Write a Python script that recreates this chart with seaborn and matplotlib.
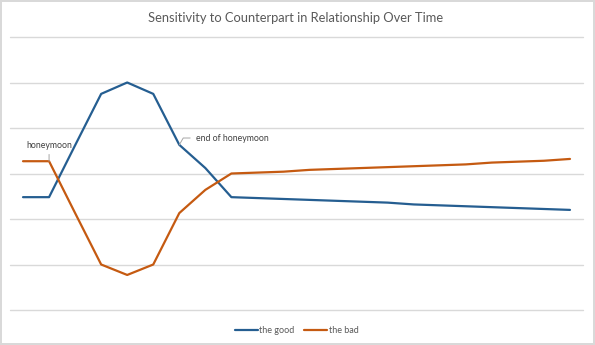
import pandas as pd
import matplotlib.pyplot as plt
import seaborn as sns

# data
periods = list(range(22))
good = [2.48, 2.48, 3.62, 4.75, 5.0, 4.75, 3.63, 3.12, 2.48, 2.46, 2.44, 2.42,
        2.40, 2.38, 2.36, 2.32, 2.30, 2.28, 2.26, 2.24, 2.22, 2.20]
bad = [3.27, 3.27, 2.13, 1.0, 0.77, 1.0, 2.13, 2.64, 3.0, 3.02, 3.04, 3.08,
       3.10, 3.12, 3.14, 3.16, 3.18, 3.20, 3.24, 3.26, 3.28, 3.32]
series_names = ['the good', 'the bad']
colors = ['#255E91', '#C55A11']

df = pd.DataFrame({'period': periods * 2,
                   'value': good + bad,
                   'series': [series_names[0]] * len(good) + [series_names[1]] * len(bad)})

sns.set_theme(style='white')
plt.rcParams['font.family'] = ['Lato', 'DejaVu Sans']

fig = plt.figure(figsize=(5.95, 3.45), dpi=100)
fig.patch.set_edgecolor('#d9d9d9')
fig.patch.set_linewidth(1.5)
ax = fig.add_axes([10 / 595, 35 / 345, 573 / 595, 273 / 345])

sns.lineplot(data=df, x='period', y='value', hue='series', hue_order=series_names,
             palette=colors, linewidth=1.6, ax=ax)

ax.set_xlim(-0.5, 21.5)
ax.set_ylim(0, 6)
ax.set_yticks(range(7))
ax.yaxis.grid(True, color='#d9d9d9', linewidth=1)
for gl in ax.get_ygridlines():
    gl.set_clip_on(False)
ax.set_axisbelow(True)
ax.set_xticks([])
ax.tick_params(left=False, labelleft=False)
ax.set_xlabel('')
ax.set_ylabel('')
for s in ax.spines.values():
    s.set_visible(False)

fig.text(296 / 595, 1 - 18 / 345, 'Sensitivity to Counterpart in Relationship Over Time',
         ha='center', va='center', fontsize=9.3, color='#595959')

ax.annotate('honeymoon', xy=(1, 3.27), xytext=(1.0, 3.62), ha='center', va='center',
            fontsize=6.3, color='#404040',
            arrowprops=dict(arrowstyle='-', color='#a6a6a6', lw=0.7, shrinkA=1, shrinkB=0))
ax.annotate('end of honeymoon', xy=(6, 3.63), xytext=(6.65, 3.78), ha='left', va='center',
            fontsize=6.3, color='#404040',
            arrowprops=dict(arrowstyle='-', color='#a6a6a6', lw=0.7, relpos=(0, 0.5),
                            connectionstyle='angle,angleA=180,angleB=60,rad=0',
                            shrinkA=2, shrinkB=0))

ax.legend(loc='center', bbox_to_anchor=(0.5, -0.075), ncol=2, frameon=False,
          fontsize=6.5, handlelength=2.6, columnspacing=1.0, handletextpad=0.15,
          labelcolor='#595959')

fig.savefig('out.png', dpi=100)
